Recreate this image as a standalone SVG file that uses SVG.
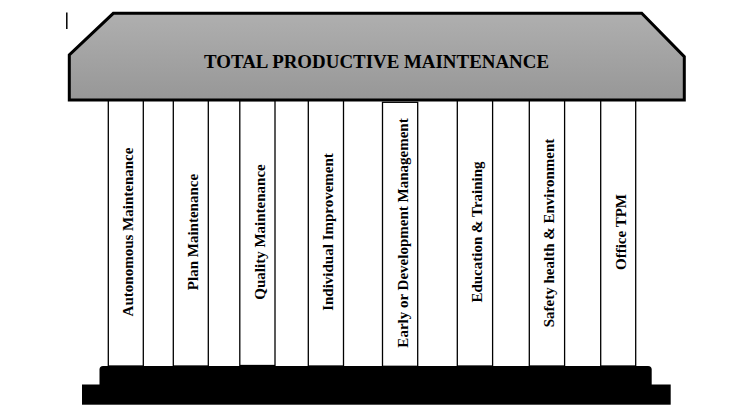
<svg xmlns="http://www.w3.org/2000/svg" width="750" height="413" viewBox="0 0 750 413">
  <defs>
    <linearGradient id="roofGrad" x1="0" y1="0" x2="0" y2="1">
      <stop offset="0" stop-color="#afafaf"/>
      <stop offset="1" stop-color="#979797"/>
    </linearGradient>
    <style>
      .pillar { fill: #ffffff; stroke: #000000; stroke-width: 1.3; }
      .plabel { font-family: "Liberation Serif", "Times New Roman", serif; font-weight: bold; font-size: 15px; fill: #000000; text-anchor: middle; }
      .title { font-family: "Liberation Serif", "Times New Roman", serif; font-weight: bold; font-size: 18.7px; fill: #000000; text-anchor: middle; }
    </style>
  </defs>
  <rect width="750" height="413" fill="#ffffff"/>

  <line x1="66.8" y1="12.5" x2="66.8" y2="29" stroke="#000000" stroke-width="1.5"/>

  <g id="pillars">
    <g id="pillar-autonomous">
      <rect class="pillar" x="108.3" y="98" width="35" height="268"/>
      <text class="plabel" transform="translate(133.3,232) rotate(-90)">Autonomous Maintenance</text>
    </g>
    <g id="pillar-plan">
      <rect class="pillar" x="173.3" y="98" width="35" height="268"/>
      <text class="plabel" transform="translate(198.3,232) rotate(-90)">Plan Maintenance</text>
    </g>
    <g id="pillar-quality">
      <rect class="pillar" x="239.8" y="100.5" width="35.2" height="265"/>
      <text class="plabel" transform="translate(264.8,232) rotate(-90)">Quality Maintenance</text>
    </g>
    <g id="pillar-individual">
      <rect class="pillar" x="308.3" y="98" width="35.2" height="268"/>
      <text class="plabel" transform="translate(333.3,232) rotate(-90)">Individual Improvement</text>
    </g>
    <g id="pillar-early">
      <rect class="pillar" x="382.5" y="102.3" width="35.2" height="264"/>
      <text class="plabel" transform="translate(407.5,233) rotate(-90)">Early or Development Management</text>
    </g>
    <g id="pillar-education">
      <rect class="pillar" x="457.3" y="98" width="35.3" height="268"/>
      <text class="plabel" transform="translate(482.3,232) rotate(-90)">Education &amp; Training</text>
    </g>
    <g id="pillar-safety">
      <rect class="pillar" x="529.3" y="98" width="35.3" height="268"/>
      <text class="plabel" transform="translate(554.3,233) rotate(-90)">Safety health &amp; Environment</text>
    </g>
    <g id="pillar-office">
      <rect class="pillar" x="600.7" y="98" width="35" height="268"/>
      <text class="plabel" transform="translate(625.7,232) rotate(-90)">Office TPM</text>
    </g>
  </g>

  <g id="roof">
    <polygon points="113.3,13.3 641.7,13.3 684.3,56.7 684.3,100 69.3,100 69.3,55" fill="url(#roofGrad)" stroke="#000000" stroke-width="3" stroke-linejoin="miter"/>
    <text class="title" x="376.5" y="68" textLength="345" lengthAdjust="spacingAndGlyphs">TOTAL PRODUCTIVE MAINTENANCE</text>
  </g>

  <g id="base">
    <path d="M99.5,386 V369.5 Q99.5,366 103,366 H648 Q651.7,366 651.7,369.5 V386 Z" fill="#000000"/>
    <rect x="82" y="384.5" width="588.7" height="20.2" fill="#000000"/>
  </g>

  <g id="connectors"></g>
</svg>
